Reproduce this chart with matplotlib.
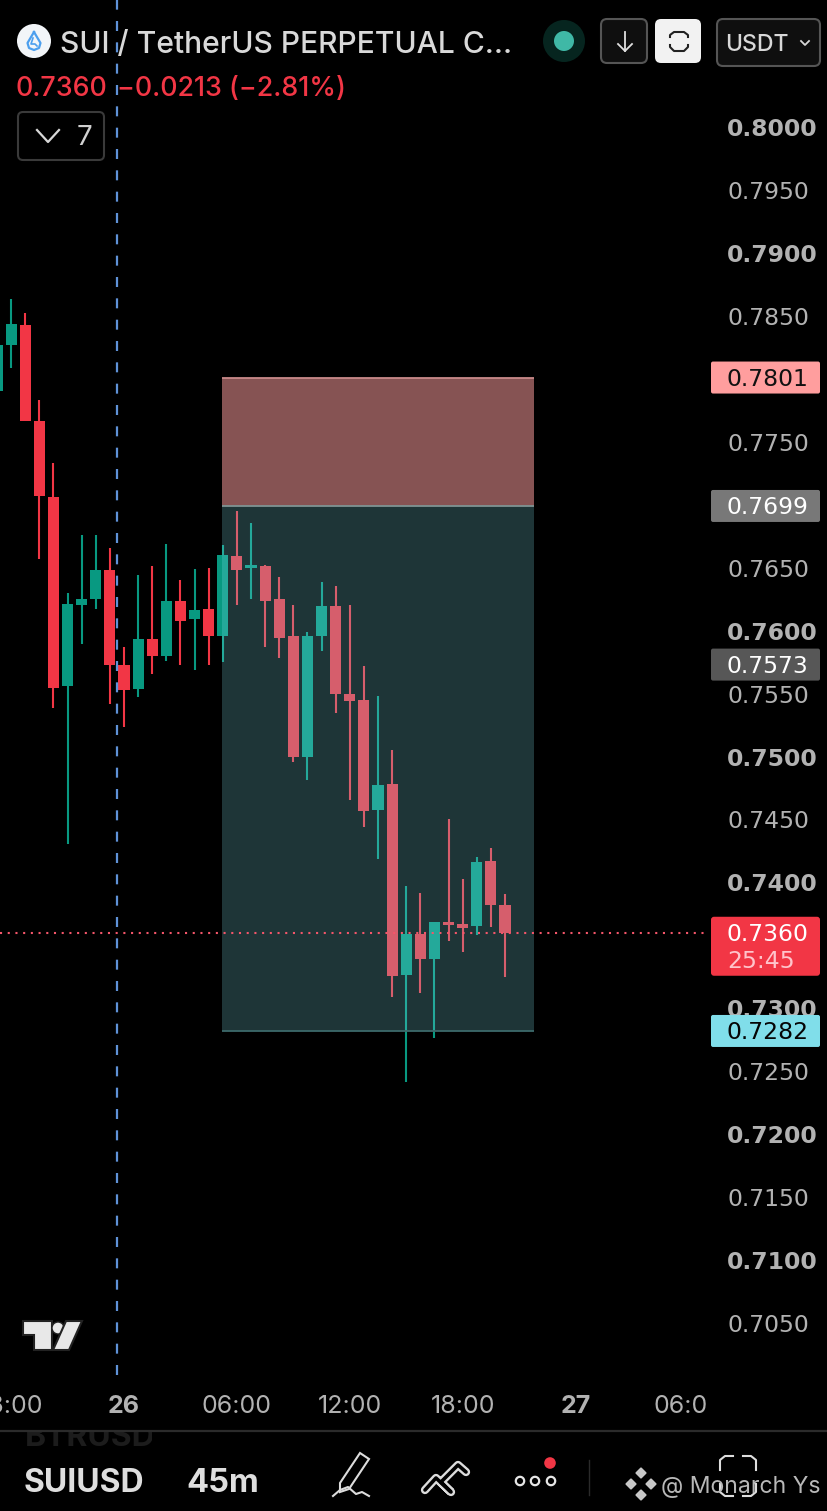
import matplotlib
matplotlib.use("Agg")
import matplotlib.pyplot as plt
from matplotlib.patches import FancyBboxPatch, Rectangle, Circle, Polygon

# candles (green when close > open)
opens = [0.77903, 0.78269, 0.78428, 0.77665, 0.77061, 0.75560, 0.76204, 0.76251, 0.76481, 0.75727,
         0.75539, 0.75933, 0.75798, 0.76238, 0.76092, 0.76172, 0.75957, 0.76593, 0.76497, 0.76513,
         0.76251, 0.75960, 0.74996, 0.75957, 0.76198, 0.75497, 0.75449, 0.74578, 0.74782, 0.73267,
         0.73593, 0.73392, 0.73686, 0.73672, 0.73654, 0.74172, 0.73821]
highs = [0.78269, 0.78636, 0.78523, 0.77832, 0.77331, 0.76301, 0.76759, 0.76759, 0.76656, 0.75872,
         0.76442, 0.76513, 0.76688, 0.76402, 0.76489, 0.76497, 0.76680, 0.76950, 0.76855, 0.76521,
         0.76428, 0.76204, 0.75989, 0.76386, 0.76354, 0.76204, 0.75719, 0.75481, 0.75052, 0.73974,
         0.73916, 0.73686, 0.74504, 0.74030, 0.74204, 0.74273, 0.73908]
lows = [0.77903, 0.78086, 0.77661, 0.76569, 0.75385, 0.74305, 0.75896, 0.76174, 0.75417, 0.75234,
        0.75473, 0.75655, 0.75761, 0.75729, 0.75690, 0.75729, 0.75753, 0.76204, 0.76254, 0.75872,
        0.75782, 0.74956, 0.74813, 0.75840, 0.75346, 0.74655, 0.74442, 0.74186, 0.73092, 0.72417,
        0.73124, 0.72764, 0.73535, 0.73447, 0.73585, 0.73646, 0.73251]
closes = [0.78269, 0.78438, 0.77665, 0.77069, 0.75547, 0.76211, 0.76251, 0.76481, 0.75727, 0.75528,
          0.75933, 0.75798, 0.76238, 0.76076, 0.76164, 0.75957, 0.76601, 0.76484, 0.76521, 0.76235,
          0.75944, 0.74996, 0.75960, 0.76198, 0.75497, 0.75443, 0.74570, 0.74774, 0.73259, 0.73593,
          0.73392, 0.73686, 0.73662, 0.73640, 0.74162, 0.73821, 0.73598]

price_ticks = [0.8000, 0.7950, 0.7900, 0.7850, 0.7800, 0.7750, 0.7700, 0.7650, 0.7600, 0.7550,
               0.7500, 0.7450, 0.7400, 0.7350, 0.7300, 0.7250, 0.7200, 0.7150, 0.7100, 0.7050]
time_ticks = [1, 9, 17, 25, 33, 41, 49]
time_labels = ["18:00", "26", "06:00", "12:00", "18:00", "27", "06:00"]
bold_times = ["26", "27"]

# short position tool
stop_price = 0.7801
entry_price = 0.7699
target_price = 0.7282
mid_price = 0.7573
last_price = 0.7360
tool_start = 15.95
tool_end = 38.02
session_break = 8.5

RED = "#f23645"
GREEN = "#089981"
GREY = "#b2b2b2"

W, H = 828, 1511
fig = plt.figure(figsize=(W / 100, H / 100), dpi=100, facecolor="black")
ax = fig.add_axes([0, 0, 1, 1], facecolor="black")
ax.set_xlim(0.2126, 58.89)
ax.set_ylim(0.69007, 0.81009)
ax.set_axisbelow(True)
for s in ax.spines.values():
    s.set_visible(False)

# wicks + bodies
idx = list(range(len(opens)))
cols = [GREEN if c >= o else RED for o, c in zip(opens, closes)]
ax.vlines(idx, lows, highs, colors=cols, linewidth=1.5, zorder=2)
ax.bar(idx, [abs(c - o) for o, c in zip(opens, closes)], bottom=[min(o, c) for o, c in zip(opens, closes)],
       width=0.78, color=cols, linewidth=0, zorder=3)

# position boxes go over the candles so they get tinted
ax.add_patch(Rectangle((tool_start, entry_price), tool_end - tool_start, target_price - entry_price,
                       facecolor="#80deea", alpha=0.24, linewidth=0, zorder=4))
ax.add_patch(Rectangle((tool_start, entry_price), tool_end - tool_start, stop_price - entry_price,
                       facecolor="#ff9e9e", alpha=0.53, linewidth=0, zorder=4))
ax.hlines(stop_price, tool_start, tool_end, colors="#c98a8a", linewidth=1.3, zorder=5)
ax.hlines(entry_price, tool_start, tool_end, colors="#7f9493", linewidth=1.3, zorder=5)
ax.hlines(target_price, tool_start, tool_end, colors="#3c6a6b", linewidth=1.3, zorder=5)

ax.plot([session_break, session_break], [0.70087, 0.81009], color="#5f92d8", linewidth=1.6,
        linestyle=(0, (4.5, 5.1)), zorder=5)
ax.plot([0.2126, 50.2], [last_price, last_price], color="#f4566a", linewidth=1.5,
        linestyle=(0, (1.0, 2.7)), zorder=5)

# price axis
ax.yaxis.tick_right()
ax.set_yticks(price_ticks)
ax.set_yticklabels(["%.4f" % p for p in price_ticks])
ax.tick_params(axis="y", length=0, pad=-72.7, labelsize=16.9, labelcolor=GREY)
for p, lab in zip(price_ticks, ax.get_yticklabels()):
    lab.set_ha("left")
    lab.set_family("DejaVu Sans")
    if round(p * 10000) % 100 == 0:
        lab.set_fontweight("bold")

# time axis
ax.set_xticks(time_ticks)
ax.set_xticklabels(time_labels)
ax.tick_params(axis="x", length=0, pad=-75, labelsize=18, labelcolor=GREY)
for lab in ax.get_xticklabels():
    lab.set_va("center")
    lab.set_family("Inter")
    if lab.get_text() in bold_times:
        lab.set_fontweight("bold")

# price tags on the right
tags = [(stop_price, "#ff9e9e", "#111111"), (entry_price, "#787878", "white"), (mid_price, "#575757", "white"),
        (target_price, "#80deea", "#050505")]
ui = fig.add_axes([0, 0, 1, 1], facecolor="none", zorder=10)
ui.set_xlim(0, W)
ui.set_ylim(H, 0)
ui.axis("off")


def round_box(x0, y0, x1, y1, r=5, fc="none", ec="none", lw=1.5):
    ui.add_patch(FancyBboxPatch((x0 + r, y0 + r), x1 - x0 - 2 * r, y1 - y0 - 2 * r,
                                boxstyle="round,pad=%d,rounding_size=%d" % (r, r), fc=fc, ec=ec, lw=lw))


def to_px(p):
    return 127 + (0.8 - p) * 12590


for p, fc, tc in tags:
    y = to_px(p)
    round_box(711, y - 16, 820, y + 16, r=2, fc=fc)
    ui.text(727, y + 2, "%.4f" % p, color=tc, fontsize=16.9, va="center", family="DejaVu Sans")
y = to_px(last_price)
round_box(711, y - 16, 820, y + 43, r=3, fc=RED)
ui.text(727, y + 1.5, "%.4f" % last_price, color="white", fontsize=16.9, va="center", family="DejaVu Sans")
ui.text(727, y + 29, "25:45", color="#ffc4cb", fontsize=16.9, va="center", family="DejaVu Sans")

# header
ui.add_patch(Circle((34, 41), 17, fc="#f2f5f8", ec="none"))
ui.plot([34, 27.5, 29, 34, 39, 40.5, 34], [32, 43, 48, 50, 48, 43, 32], color="#4c9fee", lw=1.6)
ui.plot([33, 31, 35, 37], [38, 44, 44, 46], color="#4c9fee", lw=1.2)
ui.text(60, 45, "SUI / TetherUS PERPETUAL C...", color="#d9d9d9", fontsize=21.6, va="center",
        family="Inter", fontweight="medium")
ui.text(16, 89, "0.7360", color=RED, fontsize=19.3, va="center", family="Inter", fontweight="medium")
ui.text(117, 89, "\u22120.0213 (\u22122.81%)", color=RED, fontsize=19.3, va="center", family="Inter",
        fontweight="medium")

round_box(18, 112, 104, 160, r=5, ec="#3a3a3a", lw=1.5)
ui.plot([37, 48, 59], [130, 142, 130], color="#d8d8d8", lw=1.6)
ui.text(85, 138, "7", color="#d0d0d0", fontsize=20, ha="center", va="center", family="Inter")

ui.add_patch(Circle((564, 41), 21, fc="#06251f", ec="none"))
ui.add_patch(Circle((564, 41), 10, fc="#3fb8a6", ec="none"))

round_box(601, 19, 647, 63, r=6, fc="#0f0f0f", ec="#555555", lw=1.5)
ui.plot([625, 625], [32, 51], color="#e0e0e0", lw=1.3)
ui.plot([618, 625, 632], [44, 51, 44], color="#e0e0e0", lw=1.3)

round_box(655, 19, 701, 63, r=6, fc="#f2f2f2")
ui.plot([670, 670, 674, 684, 688, 688], [37, 35, 32, 32, 35, 37], color="#222222", lw=1.5)
ui.plot([670, 670, 674, 684, 688, 688], [45, 47, 51, 51, 47, 45], color="#222222", lw=1.5)

round_box(717, 19, 820, 66, r=6, fc="#0f0f0f", ec="#555555", lw=1.5)
ui.text(725, 45, "USDT", color="#d8d8d8", fontsize=16.6, va="center", family="Inter", fontweight="medium")
ui.plot([801, 805, 809], [41, 45, 41], color="#d8d8d8", lw=1.3)

# tradingview logo
ui.add_patch(Polygon([(23, 1321), (52, 1321), (52, 1350), (34, 1350), (34, 1335), (23, 1335)],
                     fc="#e8e8e8", ec="#222222", lw=1.5))
ui.add_patch(Circle((58, 1328), 6, fc="#e8e8e8", ec="#222222", lw=1))
ui.add_patch(Polygon([(66, 1321), (82, 1321), (69, 1350), (53, 1350)], fc="#e8e8e8", ec="#222222", lw=1.5))

# hide the end of the time labels, bottom bar
ax.add_patch(Rectangle((50.39, 0.7065 - 0.0268), 9, 0.0268 - 0.0005 * 11, fc="black", lw=0, zorder=6))
ui.text(25, 1437, "BTRUSD", color="#1c1c1c", fontsize=23, va="center", family="Inter", fontweight="bold",
        zorder=1)
# ghost label scrolls under the bar, only its lower part shows
ui.add_patch(Rectangle((0, 1416), 200, 15, fc="black", lw=0, zorder=2))
ui.add_patch(Rectangle((152, 1431), 60, 24, fc="black", lw=0, zorder=2))
ui.add_patch(Rectangle((0, 1450), 180, 16, fc="black", lw=0, zorder=2))
ui.plot([0, W], [1431, 1431], color="#2b2b2b", lw=1.6, zorder=3)
ui.text(24, 1484, "SUIUSD", color="#dedede", fontsize=23, va="center", family="Inter", fontweight="bold",
        zorder=3)
ui.add_patch(Rectangle((148, 1462), 34, 40, fc="black", lw=0, zorder=4))
ui.text(186, 1484, "45m", color="#dedede", fontsize=23.5, va="center", family="Inter", fontweight="bold",
        zorder=5)

# toolbar icons
ui.add_patch(Polygon([(340, 1483), (360, 1453), (369, 1459), (349, 1489), (340, 1492)], fc="none", ec="#dcdcdc", lw=1.5))
ui.plot([333, 340, 348, 356, 362, 369], [1496, 1490, 1487, 1494, 1492, 1496], color="#dcdcdc", lw=1.5)
ui.plot([425, 436, 451, 441, 458, 466], [1490, 1478, 1492, 1482, 1465, 1472], color="#dcdcdc", lw=6, solid_capstyle="round")
ui.plot([425, 436, 451, 441, 458, 466], [1490, 1478, 1492, 1482, 1465, 1472], color="black", lw=2.6, solid_capstyle="round")
for cx in [520, 535, 551]:
    ui.add_patch(Circle((cx, 1481), 4.2, fc="black", ec="#e6e6e6", lw=1.6))
ui.add_patch(Circle((550, 1463), 5.8, fc=RED, ec="none"))
ui.plot([589, 589], [1460, 1495], color="#2a2a2a", lw=1)

# binance mark + watermark
for cx, cy in [(641, 1473), (641, 1495), (631, 1484), (651, 1484)]:
    ui.add_patch(Polygon([(cx, cy - 5), (cx + 5, cy), (cx, cy + 5), (cx - 5, cy)], fc="#c8c8c8", ec="#c8c8c8", lw=1))
ui.text(661, 1487, "@ Monarch Ys", color="#b8b8b8", fontsize=16.6, va="center", family="Inter")
ui.plot([720, 720, 725, 733], [1470, 1460, 1456, 1456], color="#dddddd", lw=1.5)
ui.plot([743, 751, 756, 756], [1456, 1456, 1460, 1470], color="#dddddd", lw=1.5)
ui.plot([720, 720, 725, 733], [1484, 1492, 1496, 1496], color="#dddddd", lw=1.5)
ui.plot([743, 751, 756, 756], [1496, 1496, 1492, 1484], color="#dddddd", lw=1.5)

fig.savefig("out.png", dpi=100, facecolor="black")
